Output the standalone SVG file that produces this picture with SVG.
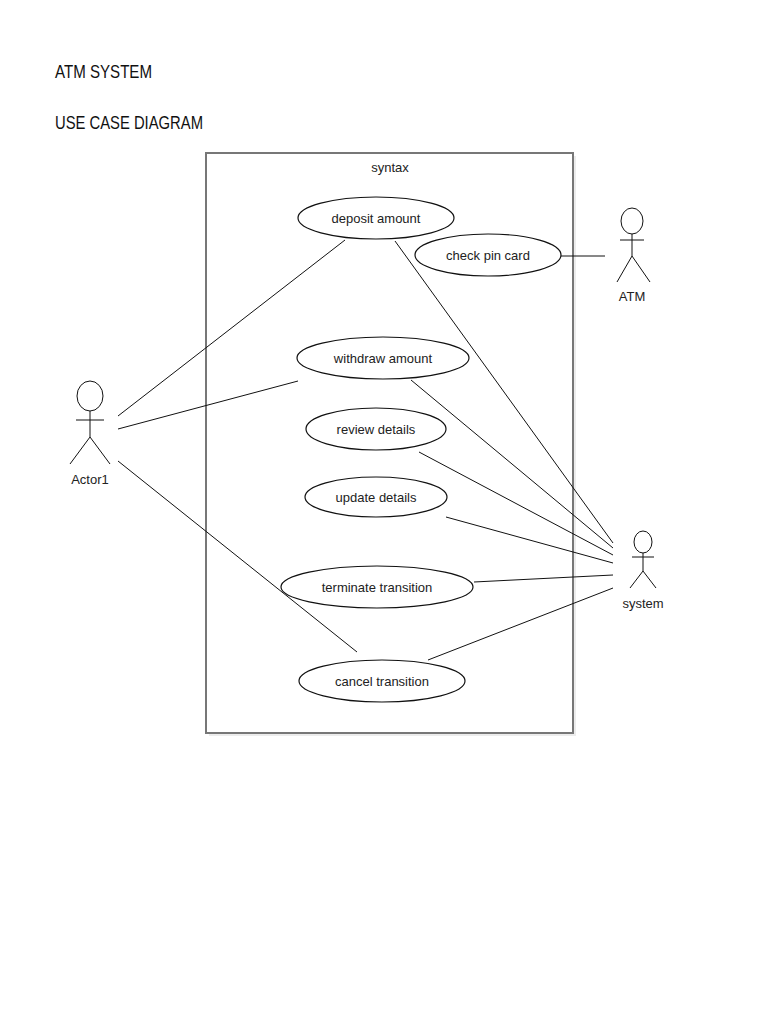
<svg xmlns="http://www.w3.org/2000/svg" width="768" height="1024" viewBox="0 0 768 1024">
<style>
.t{font-family:"Liberation Sans",Arial,sans-serif;font-size:13px;fill:#222;text-anchor:middle}
.h{font-family:"Liberation Sans",Arial,sans-serif;font-size:18px;fill:#111}
.uc{fill:#fff;stroke:#111;stroke-width:1.2}
.ln{stroke:#111;stroke-width:1;fill:none}
</style>
<rect width="768" height="1024" fill="#fff"/>
<text class="h" x="55" y="78" textLength="97" lengthAdjust="spacingAndGlyphs">ATM SYSTEM</text>
<text class="h" x="55" y="129" textLength="148" lengthAdjust="spacingAndGlyphs">USE CASE DIAGRAM</text>
<g id="boundary">
<rect x="209" y="156" width="367" height="580" fill="#ececec"/>
<rect x="206" y="153" width="367" height="580" fill="#fff" stroke="#777" stroke-width="2"/>
<text class="t" x="390" y="172">syntax</text>
</g>
<g id="connectors" class="ln">
<line x1="118" y1="416" x2="345" y2="240"/>
<line x1="118" y1="429" x2="298" y2="381"/>
<line x1="118" y1="461" x2="357" y2="652"/>
<line x1="395" y1="241" x2="613" y2="543"/>
<line x1="411" y1="380" x2="613" y2="548"/>
<line x1="419" y1="452" x2="613" y2="555"/>
<line x1="446" y1="517" x2="613" y2="563"/>
<line x1="474" y1="582" x2="613" y2="575"/>
<line x1="428" y1="660" x2="613" y2="588"/>
<line x1="561" y1="256" x2="605" y2="256"/>
</g>
<g id="deposit"><ellipse class="uc" cx="376" cy="218" rx="78" ry="21"/><text class="t" x="376" y="223">deposit amount</text></g>
<g id="checkpin"><ellipse class="uc" cx="488" cy="255" rx="73" ry="21"/><text class="t" x="488" y="260">check pin card</text></g>
<g id="withdraw"><ellipse class="uc" cx="383" cy="358" rx="86" ry="21"/><text class="t" x="383" y="363">withdraw amount</text></g>
<g id="review"><ellipse class="uc" cx="376" cy="429" rx="70" ry="21"/><text class="t" x="376" y="434">review details</text></g>
<g id="update"><ellipse class="uc" cx="376" cy="497" rx="71" ry="20"/><text class="t" x="376" y="502">update details</text></g>
<g id="terminate"><ellipse class="uc" cx="377" cy="587" rx="96" ry="21"/><text class="t" x="377" y="592">terminate transition</text></g>
<g id="cancel"><ellipse class="uc" cx="382" cy="681" rx="83" ry="21"/><text class="t" x="382" y="686">cancel transition</text></g>
<g id="actor1" class="ln">
<ellipse cx="90" cy="396" rx="13" ry="15"/>
<line x1="90" y1="411" x2="90" y2="437"/><line x1="76" y1="420" x2="104" y2="420"/>
<polyline points="70,464 90,437 110,464"/>
<text class="t" x="90" y="484" stroke="none">Actor1</text>
</g>
<g id="atm" class="ln">
<ellipse cx="632" cy="221" rx="11" ry="13"/>
<line x1="632" y1="234" x2="632" y2="256"/><line x1="620" y1="240" x2="644" y2="240"/>
<polyline points="617,282 632,256 650,282"/>
<text class="t" x="632" y="301" stroke="none">ATM</text>
</g>
<g id="system" class="ln">
<ellipse cx="643" cy="542" rx="9" ry="11"/>
<line x1="643" y1="553" x2="643" y2="571"/><line x1="632" y1="557" x2="654" y2="557"/>
<polyline points="630,588 643,571 656,588"/>
<text class="t" x="643" y="608" stroke="none">system</text>
</g>
</svg>
